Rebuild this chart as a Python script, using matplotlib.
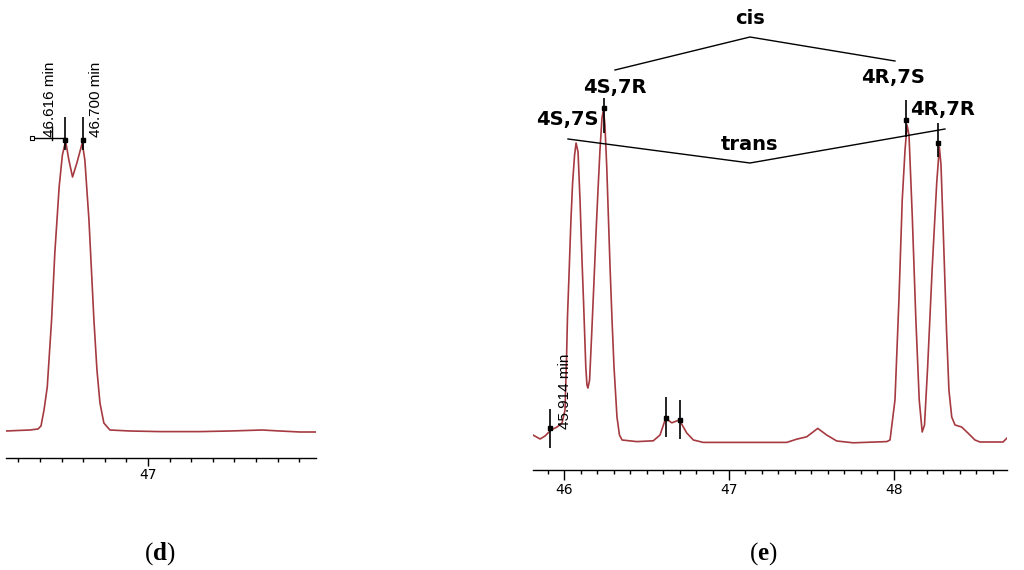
import numpy as np
import matplotlib.pyplot as plt
from matplotlib.ticker import MultipleLocator

plt.rcParams['mathtext.fontset'] = 'custom'
plt.rcParams['mathtext.bf'] = 'Liberation Serif:bold'
plt.rcParams['mathtext.rm'] = 'Liberation Serif'

# ---- panel (d): retention time (min) vs detector signal (a.u.)
d_time = [46.343, 46.407, 46.454, 46.491, 46.505, 46.519, 46.534, 46.554, 46.569,
          46.589, 46.604, 46.619, 46.634, 46.651, 46.671, 46.696, 46.708, 46.727,
          46.750, 46.764, 46.778, 46.796, 46.824, 46.917, 47.056, 47.241, 47.380,
          47.528, 47.611, 47.704, 47.778]
d_signal = [6.75, 6.9, 7.0, 7.25, 8.0, 12.0, 17.75, 34.5, 51.25,
            67.75, 75.75, 79.25, 74.5, 70.25, 73.75, 78.75, 74.5, 59.5,
            34.5, 22.0, 13.75, 8.75, 7.0, 6.75, 6.6, 6.6, 6.75,
            7.0, 6.75, 6.5, 6.5]
d_peaks = [46.616, 46.700]
d_peak_signal = [79.5, 79.5]
d_peak_labels = ['46.616 min', '46.700 min']

# ---- panel (e)
e_time = [45.812, 45.855, 45.885, 45.921, 45.958, 45.988, 46.006, 46.015, 46.021,
          46.032, 46.042, 46.052, 46.064, 46.073, 46.085, 46.097, 46.109, 46.118,
          46.132, 46.139, 46.145, 46.155, 46.168, 46.182, 46.194, 46.206, 46.218,
          46.230, 46.239, 46.248, 46.259, 46.279, 46.291, 46.303, 46.321, 46.336,
          46.352, 46.441, 46.541, 46.582, 46.616, 46.653, 46.699, 46.744, 46.784,
          46.844, 47.350, 47.410, 47.471, 47.538, 47.592, 47.653, 47.753, 47.956,
          47.976, 48.006, 48.030, 48.050, 48.067, 48.079, 48.091, 48.111, 48.132,
          48.153, 48.171, 48.185, 48.204, 48.232, 48.259, 48.275, 48.285, 48.299,
          48.319, 48.333, 48.350, 48.370, 48.410, 48.448, 48.491, 48.521, 48.661,
          48.685]
e_signal = [8.75, 7.75, 8.5, 10.0, 10.75, 11.75, 15.0, 27.5, 38.25,
            50.75, 62.5, 71.75, 78.75, 81.75, 79.5, 67.5, 52.5, 42.5,
            25.75, 21.25, 20.5, 22.5, 34.25, 47.5, 59.25, 70.0, 80.0,
            88.0, 90.0, 86.25, 75.75, 50.75, 37.5, 25.75, 13.25, 8.75,
            7.5, 7.1, 7.3, 8.75, 12.9, 11.8, 12.5, 9.25, 7.5,
            6.9, 6.9, 7.7, 8.3, 10.4, 8.75, 7.25, 6.8, 7.1,
            7.5, 17.5, 42.5, 67.5, 80.0, 86.25, 83.75, 63.25, 38.25,
            17.5, 9.5, 11.25, 25.75, 50.75, 71.75, 80.75, 76.25, 59.25,
            34.25, 20.0, 13.25, 11.25, 10.75, 9.25, 7.5, 7.0, 7.0,
            8.0]
e_marks = [45.914, 46.616, 46.700, 46.242, 48.073, 48.267]
e_mark_signal = [10.5, 13.1, 12.5, 90.5, 87.5, 81.75]
e_mark_low = [5.5, 8.25, 7.75, 84.25, 83.25, 78.25]
e_mark_high = [15.25, 18.25, 17.5, 93.0, 92.5, 86.75]

isomers = ['4S,7S', '4S,7R', '4R,7S', '4R,7R']
isomer_time = [46.018, 46.309, 47.994, 48.297]
isomer_y = [87.5, 95.5, 98.0, 90.25]
cis_t = [46.309, 47.127, 48.006]
cis_y = [100.0, 108.25, 102.25]
trans_t = [46.024, 47.127, 48.309]
trans_y = [82.75, 76.75, 85.25]

line_col = '#a53a40'

fig = plt.figure(figsize=(10.24, 5.70), dpi=100)

def style_axis(ax, major_len):
    for s in ['left', 'right', 'top']:
        ax.spines[s].set_visible(False)
    ax.spines['bottom'].set_linewidth(1.0)
    ax.set_yticks([])
    ax.xaxis.set_major_locator(MultipleLocator(1))
    ax.xaxis.set_minor_locator(MultipleLocator(0.1))
    ax.tick_params(axis='x', which='major', length=major_len, width=1, pad=1.5, labelsize=10)
    ax.tick_params(axis='x', which='minor', length=3, width=1)
    ax.patch.set_alpha(0)

# (d)
ax1 = fig.add_axes([6/1024, 112/570, 310/1024, 428/570])
ax1.plot(d_time, d_signal, color=line_col, lw=1.2)
ax1.set_xlim(46.343, 47.778)
ax1.set_ylim(0, 107)
style_axis(ax1, 5.8)
ax1.vlines(d_peaks, 77, 85.2, color='black', lw=1.2)
ax1.plot(d_peaks, d_peak_signal, 's', color='black', ms=3.5)
ax1.plot([46.463, d_peaks[0]], [80, 80], color='black', lw=1)
ax1.plot([46.463], [80], 's', mfc='white', mec='black', ms=3.5, mew=0.8)
ax1.plot([46.556, 46.556], [79.5, 82.75], color='black', lw=1)
for t, lab in zip([46.545, 46.759], d_peak_labels):
    ax1.text(t, 80.2, lab, rotation=90, ha='center', va='bottom',
             fontsize=11, family='Liberation Sans')

# (e)
ax2 = fig.add_axes([533/1024, 100/570, 474/1024, 470/570])
ax2.plot(e_time, e_signal, color=line_col, lw=1.2)
ax2.set_xlim(45.812, 48.685)
ax2.set_ylim(0, 117.5)
style_axis(ax2, 7.5)
ax2.vlines(e_marks, e_mark_low, e_mark_high, color='black', lw=1.2)
ax2.plot(e_marks, e_mark_signal, 's', color='black', ms=3.5)
ax2.text(46.006, 10.2, '45.914 min', rotation=90, ha='center', va='bottom',
         fontsize=11, family='Liberation Sans')
ax2.plot(cis_t, cis_y, color='black', lw=1)
ax2.plot(trans_t, trans_y, color='black', lw=1)
ax2.text(47.127, 113, 'cis', ha='center', va='center', fontsize=14, fontweight='bold')
ax2.text(47.127, 81.25, 'trans', ha='center', va='center', fontsize=14, fontweight='bold')
for t, y, lab in zip(isomer_time, isomer_y, isomers):
    ax2.text(t, y, lab, ha='center', va='center', fontsize=14, fontweight='bold',
             clip_on=False)

fig.text(160/1024, 1 - 554/570, r'($\mathbf{d}$)', ha='center', va='center',
         fontsize=18, family='Liberation Serif')
fig.text(763/1024, 1 - 554/570, r'($\mathbf{e}$)', ha='center', va='center',
         fontsize=18, family='Liberation Serif')

fig.savefig('out.png', dpi=100)
